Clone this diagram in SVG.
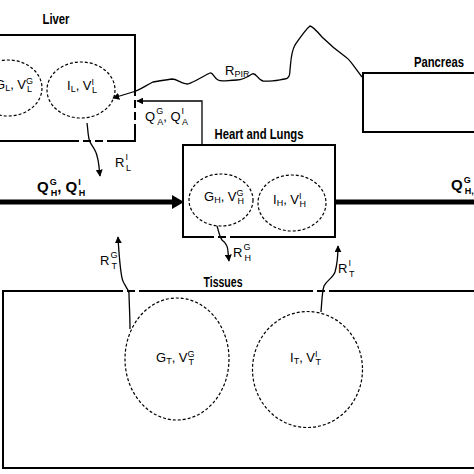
<svg xmlns="http://www.w3.org/2000/svg" width="474" height="474" viewBox="0 0 474 474">
<defs>
<style>
.box{fill:none;stroke:#000;stroke-width:2}
.dash{fill:none;stroke:#000;stroke-width:2;stroke-dasharray:8,4}
.ell{fill:none;stroke:#000;stroke-width:1.2;stroke-dasharray:3,2}
.wav{fill:none;stroke:#000;stroke-width:1.3}
.thick{fill:none;stroke:#000;stroke-width:5}
.title{font-family:"Liberation Sans Narrow","Liberation Sans",sans-serif;font-weight:bold;font-size:14px;fill:#000}
.lab{font-family:"Liberation Sans Narrow","Liberation Sans",sans-serif;font-size:13px;fill:#000}
.labb{font-family:"Liberation Sans Narrow","Liberation Sans",sans-serif;font-size:15px;font-weight:bold;fill:#000}
.s{font-size:9px}
</style>
<marker id="ah" viewBox="0 0 10 10" refX="9" refY="5" markerWidth="7" markerHeight="7" markerUnits="userSpaceOnUse" orient="auto">
<path d="M0,0 L10,5 L0,10 z" fill="#000"/>
</marker>
</defs>
<rect width="474" height="474" fill="#fff"/>

<g id="liver">
<path class="box" d="M0,35 H135 V88"/>
<path class="dash" d="M135,88 V130"/>
<path class="box" d="M135,130 V141 H115"/>
<path class="dash" d="M115,141 H77"/>
<path class="box" d="M77,141 H0"/>
<text class="title" x="56" y="24" text-anchor="middle" textLength="27" lengthAdjust="spacingAndGlyphs">Liver</text>
<ellipse class="ell" cx="8" cy="88" rx="34" ry="28"/>
<text class="lab" x="-5" y="89">G<tspan class="s" dy="2">L</tspan><tspan dy="-2">, V</tspan><tspan class="s" dy="-5">G</tspan><tspan class="s" dx="-6" dy="8">L</tspan></text>
<ellipse class="ell" cx="81" cy="90" rx="34" ry="28"/>
<text class="lab" x="67" y="90">I<tspan class="s" dy="2">L</tspan><tspan dy="-2">, V</tspan><tspan class="s" dy="-5">I</tspan><tspan class="s" dx="-2" dy="8">L</tspan></text>
</g>

<g id="pancreas">
<path class="box" d="M476,73 H363 V132 H476" stroke-width="1.5"/>
<text class="title" x="439" y="67" text-anchor="middle" textLength="50" lengthAdjust="spacingAndGlyphs">Pancreas</text>
</g>

<g id="heart">
<path class="box" d="M206,237 H183 V145 H335 V237 H233"/>
<path class="dash" d="M206,237 H233"/>
<text class="title" x="259" y="139" text-anchor="middle" textLength="89" lengthAdjust="spacingAndGlyphs">Heart and Lungs</text>
<ellipse class="ell" cx="221" cy="200" rx="32" ry="26"/>
<text class="lab" x="204" y="201">G<tspan class="s" dy="2">H</tspan><tspan dy="-2">, V</tspan><tspan class="s" dy="-5">G</tspan><tspan class="s" dx="-6" dy="8">H</tspan></text>
<ellipse class="ell" cx="292" cy="203" rx="34" ry="28"/>
<text class="lab" x="273" y="204">I<tspan class="s" dy="2">H</tspan><tspan dy="-2">, V</tspan><tspan class="s" dy="-5">I</tspan><tspan class="s" dx="-2" dy="8">H</tspan></text>
</g>

<g id="tissues">
<path class="box" d="M115,291 H3 V468 H476 V291 H335"/>
<path class="dash" d="M115,291 H140"/>
<path class="box" d="M140,291 H305"/>
<path class="dash" d="M305,291 H335"/>
<text class="title" x="223" y="287" text-anchor="middle" textLength="39" lengthAdjust="spacingAndGlyphs">Tissues</text>
<ellipse class="ell" cx="177" cy="359" rx="52" ry="61"/>
<text class="lab" x="156" y="362">G<tspan class="s" dy="2">T</tspan><tspan dy="-2">, V</tspan><tspan class="s" dy="-5">G</tspan><tspan class="s" dx="-6" dy="8">T</tspan></text>
<ellipse class="ell" cx="307.5" cy="369.5" rx="55" ry="58"/>
<text class="lab" x="290" y="362">I<tspan class="s" dy="2">T</tspan><tspan dy="-2">, V</tspan><tspan class="s" dy="-5">I</tspan><tspan class="s" dx="-2" dy="8">T</tspan></text>
</g>

<g id="connectors">
<path class="thick" d="M0,202 H174"/>
<path d="M172,195 L184,202 L172,209 z" fill="#000"/>
<path class="thick" d="M335,202 H476"/>
<path class="wav" d="M202,145 V101 H137" marker-end="url(#ah)"/>
<path class="wav" marker-end="url(#ah)" d="M362,77 C355,68 350,60 347,58 C340,53 333,48 322,37 C316,30 312,26 310,26 C305,30 300,38 295,45 C291,52 291,60 290,70 C290,78 287,79 285,79 C278,80 270,82 263,81 C258,80 256,72 252,74 C246,78 241,80 237,80 C228,80 222,82 218,80 C214,78 213,72 210,73 C203,76 195,82 188,84 C182,84 177,79 172,79 C165,80 158,81 153,82 C145,86 140,90 133,92 C126,94 120,96 113,98"/>
<path class="wav" marker-end="url(#ah)" d="M87,123 C88,130 88,138 90,142 C92,146 96,150 97,156 C99,162 99,168 100,176"/>
<path class="wav" marker-end="url(#ah)" d="M217,226 C219,232 219,236 222,240 C226,243 228,246 228,252 L229,261"/>
<path class="wav" marker-end="url(#ah)" d="M130,329 C130,315 129,300 129,293 C128,288 123,284 122,278 C120,268 119,255 118,237"/>
<path class="wav" marker-end="url(#ah)" d="M321,312 C322,300 322,292 324,286 C327,280 333,278 335,272 C337,265 338,256 338,246"/>
<text class="labb" x="37" y="192">Q<tspan class="s" dx="1" dy="-7">G</tspan><tspan class="s" dx="-6" dy="11">H</tspan><tspan dy="-4">, Q</tspan><tspan class="s" dx="1" dy="-7">I</tspan><tspan class="s" dx="-2" dy="11">H</tspan></text>
<text class="labb" x="451" y="190">Q<tspan class="s" dx="1" dy="-7">G</tspan><tspan class="s" dx="-6" dy="11">H,</tspan></text>
<text class="lab" x="145" y="121" font-size="14">Q<tspan class="s" dx="1" dy="-7">G</tspan><tspan class="s" dx="-6" dy="11">A</tspan><tspan dy="-4">, Q</tspan><tspan class="s" dx="1" dy="-7">I</tspan><tspan class="s" dx="-2" dy="11">A</tspan></text>
<text class="lab" x="225" y="75" font-size="12">R<tspan class="s" font-size="7" dy="2">PIR</tspan></text>
<text class="lab" x="115" y="167" font-size="14">R<tspan class="s" dx="1" dy="-7">I</tspan><tspan class="s" dx="-2" dy="11">L</tspan></text>
<text class="lab" x="233" y="257">R<tspan class="s" dx="1" dy="-7">G</tspan><tspan class="s" dx="-6" dy="11">H</tspan></text>
<text class="lab" x="100" y="265">R<tspan class="s" dx="1" dy="-7">G</tspan><tspan class="s" dx="-6" dy="11">T</tspan></text>
<text class="lab" x="338" y="273">R<tspan class="s" dx="1" dy="-7">I</tspan><tspan class="s" dx="-2" dy="11">T</tspan></text>
</g>
</svg>
